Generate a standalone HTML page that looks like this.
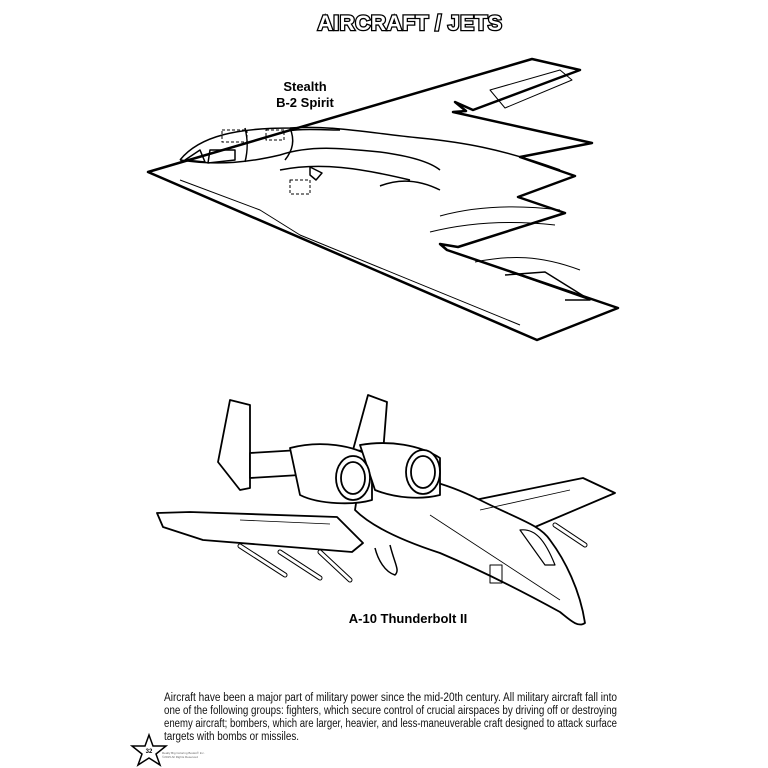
<!DOCTYPE html>
<html><head><meta charset="utf-8"><style>
html,body{margin:0;padding:0;background:#fff;width:768px;height:768px;overflow:hidden}
svg{position:absolute;left:0;top:0}
.t{font-family:"Liberation Sans",sans-serif}
</style></head><body>
<svg width="768" height="768" viewBox="0 0 768 768" xmlns="http://www.w3.org/2000/svg">
<!-- Title -->
<text x="410" y="30" text-anchor="middle" class="t" font-size="21" font-weight="bold" fill="#fff" stroke="#000" stroke-width="2.6" paint-order="stroke" letter-spacing="0.5">AIRCRAFT / JETS</text>

<!-- B-2 -->
<g fill="none" stroke="#000" stroke-linejoin="round">
<polygon stroke-width="2.5" points="148,172 532,59 580,70 473,110 455,102 466,111 453,112 592,143 520,157 575,176 518,197 565,213 458,247 440,244 447,250 618,308 537,340"/>
<g stroke-width="1.5">
<path d="M180,160 C200,135 240,128 290,128 C330,125 370,133 420,138 C460,142 500,148 560,170"/>
<path d="M180,160 C220,166 250,162 280,155 C310,145 340,148 380,152 C410,156 430,162 440,170"/>
<path d="M290,128 C295,140 293,150 285,160"/>
<path d="M245,128 C248,140 248,150 245,162"/>
<path d="M200,150 L185,160 L205,162 Z"/>
<path d="M210,150 L235,150 L235,160 L208,163 Z"/>
<path d="M282,132 C300,128 320,130 340,130"/>
<path d="M380,186 C400,178 420,180 440,190"/>
<path d="M280,170 C320,162 360,168 410,180"/>
<path d="M310,167 L322,173 L316,180 L310,175 Z"/>
<path d="M440,216 C480,205 520,205 560,210" stroke-width="1"/>
<path d="M430,232 C470,222 510,220 555,225" stroke-width="1"/>
<path d="M475,262 C510,255 540,255 580,270" stroke-width="1"/>
<path d="M510,272 L590,300" stroke-width="1"/>
<path d="M505,275 L545,272 L590,300 L565,300"/>
<path d="M490,90 L560,70 L572,80 L505,108 Z" stroke-width="1"/>
<path d="M180,180 L260,210 L300,235 L520,325" stroke-width="1"/>
</g>
<g stroke-width="1" stroke-dasharray="3,2">
<rect x="266" y="130" width="18" height="10"/>
<rect x="222" y="130" width="25" height="12"/>
<rect x="290" y="180" width="20" height="14"/>
</g>
</g>
<text x="305" y="91" text-anchor="middle" class="t" font-size="13" font-weight="bold">Stealth</text>
<text x="305" y="107" text-anchor="middle" class="t" font-size="13" font-weight="bold">B-2 Spirit</text>

<!-- A-10 -->
<g fill="#fff" stroke="#000" stroke-linejoin="round" stroke-width="1.8">
<polygon points="230,400 250,405 250,488 240,490 218,462"/>
<polygon points="368,395 387,402 383,453 353,450"/>
<polygon points="250,453 300,450 300,475 250,478"/>
<polygon points="460,503 583,478 615,493 535,527"/>
<path d="M360,477 C410,470 450,485 480,500 C520,520 540,525 550,540 C565,560 580,590 585,623 C578,628 570,620 560,612 C520,590 480,570 440,553 C400,540 370,525 355,510 Z"/>
<polygon points="157,513 190,512 337,517 363,543 352,552 203,540 163,527"/>
<path d="M290,448 C320,440 355,445 372,458 L372,500 C355,505 320,505 300,495 Z"/>
<path d="M360,445 C390,440 420,445 440,458 L440,495 C420,500 395,498 375,490 Z"/>
<ellipse cx="353" cy="478" rx="17" ry="22"/>
<ellipse cx="353" cy="478" rx="12" ry="16"/>
<ellipse cx="423" cy="472" rx="17" ry="22"/>
<ellipse cx="423" cy="472" rx="12" ry="16"/>
<path d="M520,530 C535,528 545,540 555,565 L545,565 Z" stroke-width="1.2"/>
<path d="M240,546 L285,575 M280,552 L320,578 M320,552 L350,580" stroke-width="5" stroke-linecap="round"/>
<path d="M240,546 L285,575 M280,552 L320,578 M320,552 L350,580" stroke-width="3" stroke="#fff" stroke-linecap="round"/>
<path d="M555,525 L585,545" stroke-width="5" stroke-linecap="round"/>
<path d="M555,525 L585,545" stroke-width="3" stroke="#fff" stroke-linecap="round"/>
<path d="M390,545 C395,565 400,570 395,575 C385,572 378,560 375,548" stroke-width="1.5"/>
<rect x="490" y="565" width="12" height="18" fill="none" stroke-width="1"/>
<path d="M240,520 L330,524 M480,510 L570,490 M430,515 L560,600" fill="none" stroke-width="0.8"/>
</g>
<text x="408" y="623" text-anchor="middle" class="t" font-size="13" font-weight="bold">A-10 Thunderbolt II</text>

<!-- Paragraph -->
<g class="t" font-size="11.5" fill="#111">
<text x="164" y="701" textLength="453" lengthAdjust="spacingAndGlyphs">Aircraft have been a major part of military power since the mid-20th century. All military aircraft fall into</text>
<text x="164" y="714" textLength="453" lengthAdjust="spacingAndGlyphs">one of the following groups: fighters, which secure control of crucial airspaces by driving off or destroying</text>
<text x="164" y="727" textLength="453" lengthAdjust="spacingAndGlyphs">enemy aircraft; bombers, which are larger, heavier, and less-maneuverable craft designed to attack surface</text>
<text x="164" y="740" textLength="135" lengthAdjust="spacingAndGlyphs">targets with bombs or missiles.</text>
</g>
<polygon points="149,735 153,746 166,746 156,754 160,765 149,758 138,765 142,754 132,746 145,746" fill="#fff" stroke="#000" stroke-width="1.5"/>
<text x="149" y="753" text-anchor="middle" class="t" font-size="6" font-weight="bold">32</text>
<text x="162" y="754" class="t" font-size="3" fill="#666">Really Big Coloring Books® Inc.</text>
<text x="162" y="758" class="t" font-size="3" fill="#666">©2015 All Rights Reserved</text>
</svg>
</body></html>
